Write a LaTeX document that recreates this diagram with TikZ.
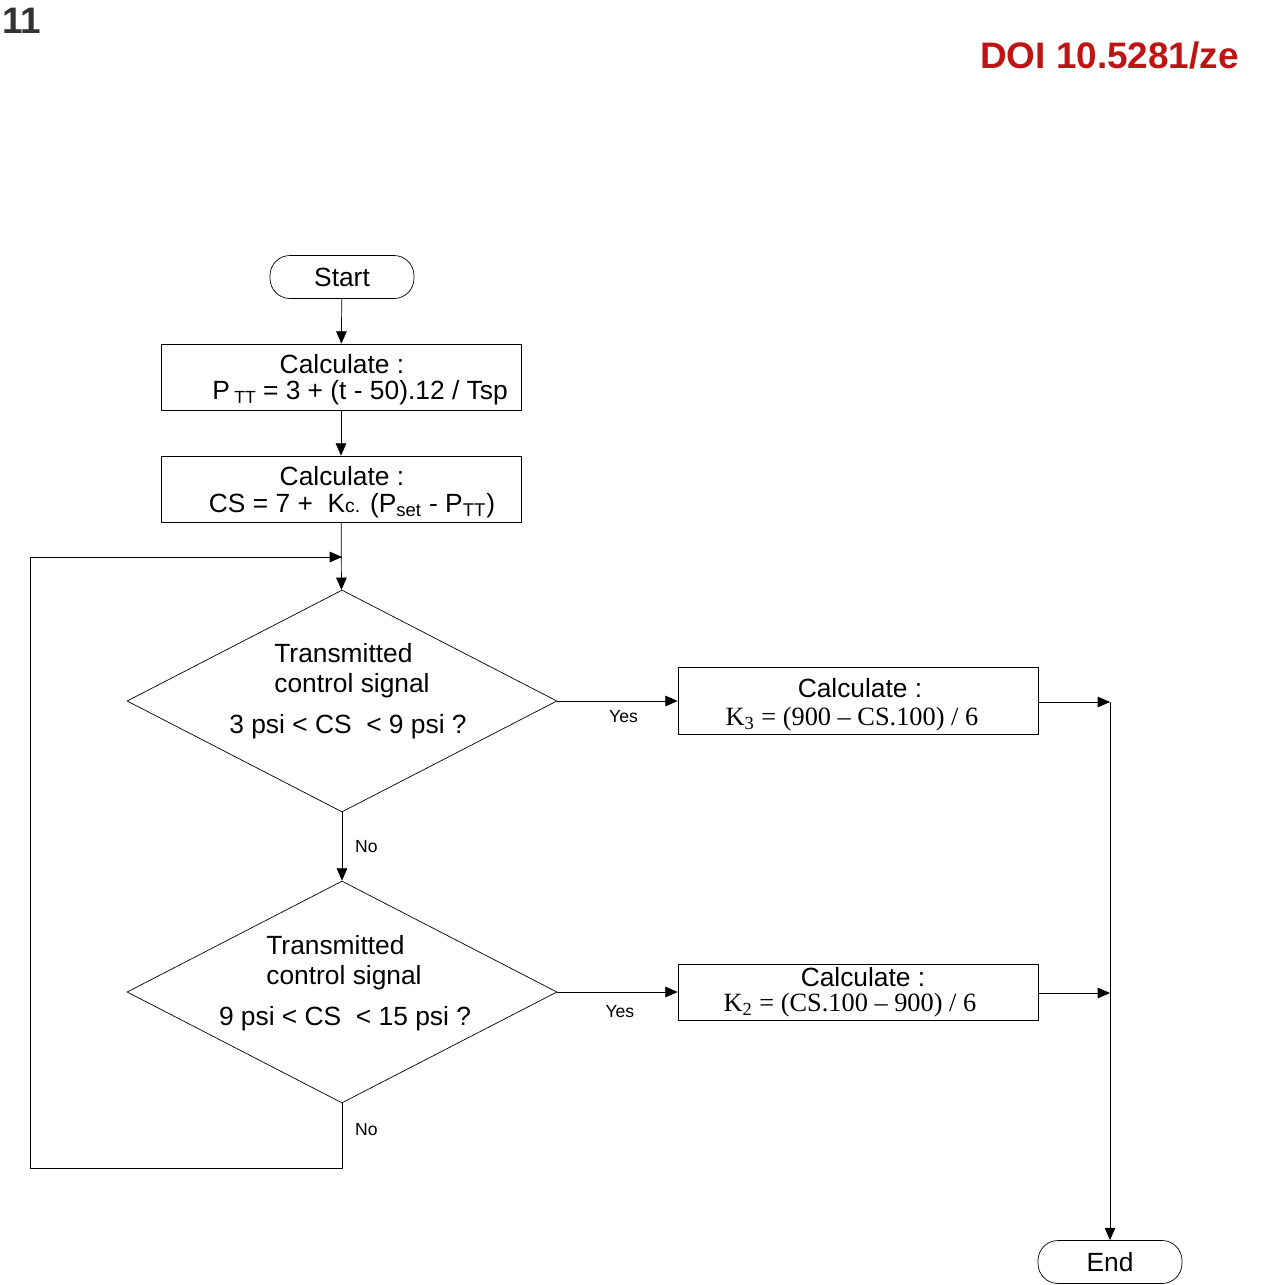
\documentclass[tikz,border=0pt]{standalone}
\usepackage{fontspec}
\setmainfont{Liberation Sans}
\newfontfamily\tms{Liberation Serif}
\usetikzlibrary{arrows.meta,shapes.geometric}
\begin{document}
\begin{tikzpicture}[x=0.02cm,y=-0.02cm,
  box/.style={draw,thin,minimum width=7.2cm,inner sep=0pt},
  term/.style={draw,thin,rounded corners=0.4cm,minimum width=2.88cm,minimum height=0.86cm,font=\fontsize{15}{17}\selectfont},
  dia/.style={draw,thin,diamond,minimum width=8.6cm,minimum height=4.44cm,aspect=1.94,inner sep=0pt},
  arr/.style={-{Triangle[length=7pt,width=6pt]},thin},
  lab/.style={font=\fontsize{10}{12}\selectfont},
  t/.style={font=\fontsize{15}{17}\selectfont}]
\useasboundingbox (0,0) rectangle (1263,1285);
\clip (0,0) rectangle (1263,1285);
\node[anchor=north west,font=\bfseries\fontsize{21}{22}\selectfont,text=black!80] (n11) at (-4,2) {11};
\node[anchor=west,font=\bfseries\fontsize{21}{23}\selectfont,text={rgb,255:red,190;green,20;blue,20}] (doi) at (974,55) {DOI 10.5281/ze};
\node[term] (start) at (342,277) {Start};
\node[box,minimum height=1.32cm] (b1) at (341,377) {};
\node[t] (b1a) at (342,364) {Calculate :};
\node[t] (b1b) at (360,393) {P\,\raisebox{-2pt}{\fontsize{10}{12}\selectfont TT} = 3 + (t - 50).12 / Tsp};
\node[box,minimum height=1.32cm] (b2) at (341,489) {};
\node[t] (b2a) at (342,476) {Calculate :};
\node[t] (b2b) at (352,506) {CS = 7 +\; K{\fontsize{11}{12}\selectfont c.} (P\textsubscript{set} - P\textsubscript{TT})};
\node[dia] (d1) at (342,701) {};
\node[t,align=left] (d1a) at (352,671) {Transmitted\\ control signal};
\node[t] (d1b) at (348,727) {3 psi < CS\; < 9 psi ?};
\node[dia] (d2) at (342,992) {};
\node[t,align=left] (d2a) at (344,963) {Transmitted\\ control signal};
\node[t] (d2b) at (345,1019) {9 psi < CS\; < 15 psi ?};
\node[box,minimum height=1.34cm] (b3) at (858,701) {};
\node[t] (b3a) at (860,688) {Calculate :};
\node[font=\tms\fontsize{15}{17}\selectfont] (b3b) at (852,719) {K\textsubscript{3} = (900 – CS.100) / 6};
\node[box,minimum height=1.12cm] (b4) at (858,992) {};
\node[t,inner sep=1pt] (b4a) at (863,977) {Calculate :};
\node[font=\tms\fontsize{15}{17}\selectfont,inner sep=1pt] (b4b) at (850,1005) {K\textsubscript{2} = (CS.100 – 900) / 6};
\node[term] (end) at (1110,1262) {End};
\coordinate (j1) at (1110,702);
\coordinate (j2) at (1110,993);
\coordinate (l1) at (342,1168);
\coordinate (l2) at (30,1168);
\coordinate (l3) at (30,557);
\coordinate (l4) at (342,557);
\draw[arr] (start) -- (b1);
\draw[arr] (b1) -- (b2);
\draw[arr] (b2) -- (d1);
\draw[arr] (d1) -- node[lab,pos=0.5,right=4pt] {No} (d2);
\draw[arr] (d1.east) -- node[lab,below=2pt,pos=0.55] {Yes} (b3);
\draw[arr] (d2.east) -- node[lab,below=4pt,pos=0.52] {Yes} (b4);
\draw[arr] (b3.east|-j1) -- (j1);
\draw[arr] (b4.east|-j2) -- (j2);
\draw[arr] (j1) -- (end);
\draw (d2.south) -- node[lab,right=4pt,pos=0.4] {No} (l1) -- (l2) -- (l3) -- (l3-|l4);
\draw[arr] (l3) -- (l4);
\end{tikzpicture}
\end{document}
